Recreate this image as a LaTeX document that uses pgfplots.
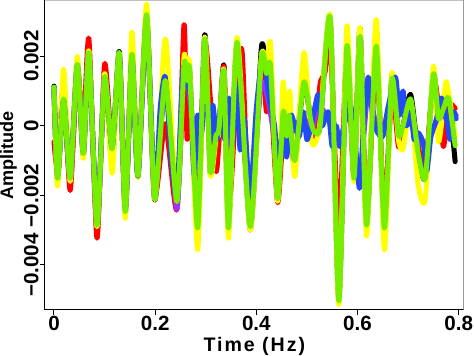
\documentclass[border=0pt]{standalone}
\usepackage{fontspec}
\setmainfont{Liberation Sans}
\newfontfamily\xlabfont{Liberation Sans}[LetterSpace=10]
\usepackage{pgfplots}
\pgfplotsset{compat=1.18}
\definecolor{cgreen}{RGB}{118,238,0}
\definecolor{cyellow}{RGB}{255,255,0}
\definecolor{cred}{RGB}{255,0,0}
\definecolor{cblue}{RGB}{35,75,245}
\definecolor{cmag}{RGB}{160,50,255}
\begin{document}
\begin{tikzpicture}
\begin{axis}[
  scale only axis, width=417pt, height=308pt,
  xmin=-0.018, xmax=0.81, ymin=-0.00529, ymax=0.0036,
  axis lines*=left, axis line style={line width=1pt, black},
  tick align=outside, major tick length=5pt, tick style={line width=1pt, black},
  xtick={0,0.2,0.4,0.6,0.8}, xticklabels={0,0.2,0.4,0.6,0.8},
  ytick={-0.004,-0.002,0,0.002}, yticklabels={−0.004,−0.002,0,0.002},
  scaled y ticks=false, scaled x ticks=false,
  xticklabel style={font=\fontsize{20.5}{20.5}\selectfont\bfseries, inner sep=1pt},
  yticklabel style={font=\fontsize{20.5}{20.5}\selectfont\bfseries, rotate=90, anchor=south, inner sep=1pt},
  xlabel={\xlabfont\bfseries Time (Hz)},
  ylabel={Amplitude},
  xlabel style={font=\fontsize{19.5}{19.5}\selectfont, inner sep=0pt, yshift=-5pt},
  ylabel style={font=\fontsize{18}{18}\selectfont\bfseries, inner sep=0pt, yshift=6pt},
  every axis plot/.append style={line width=5pt, smooth, tension=0.4, line join=round, line cap=round},
]
% black
\addplot[black] coordinates {
(0.000,0.00114)(0.007,-0.00155)(0.019,0.00080)(0.032,-0.00160)(0.046,0.00180)(0.058,-0.00085)(0.069,0.00212)(0.085,-0.00290)(0.100,0.00140)(0.115,-0.00110)(0.129,0.00214)(0.141,-0.00250)(0.154,0.00200)(0.166,-0.00145)(0.183,0.00318)(0.199,-0.00213)(0.220,0.00125)(0.243,-0.00215)(0.257,0.00175)(0.263,0.00125)(0.268,0.00165)(0.284,-0.00290)(0.298,0.00262)(0.309,-0.00135)(0.320,-0.00030)(0.326,-0.00010)(0.336,0.00172)(0.345,-0.00290)(0.362,0.00238)(0.388,-0.00290)(0.410,0.00225)(0.420,0.00150)(0.428,0.00170)(0.442,-0.00205)(0.453,0.00040)(0.460,-0.00030)(0.465,0.00030)(0.476,-0.00100)(0.494,0.00125)(0.508,0.00011)(0.516,-0.00020)(0.526,0.00000)(0.546,0.00308)(0.563,-0.00500)(0.579,0.00228)(0.593,-0.00150)(0.605,0.00280)(0.618,-0.00285)(0.637,0.00235)(0.653,-0.00292)(0.668,0.00145)(0.681,-0.00028)(0.690,0.00000)(0.705,0.00090)(0.720,-0.00080)(0.734,-0.00150)(0.750,0.00149)(0.760,0.00020)(0.770,0.00050)(0.780,0.00080)(0.793,-0.00103)
};
% red
\addplot[cred] coordinates {
(0.000,-0.00046)(0.007,-0.00120)(0.019,0.00120)(0.032,-0.00186)(0.046,0.00160)(0.058,-0.00010)(0.069,0.00249)(0.085,-0.00323)(0.100,0.00177)(0.115,-0.00060)(0.129,0.00190)(0.141,-0.00230)(0.154,0.00190)(0.166,-0.00130)(0.183,0.00300)(0.199,-0.00200)(0.220,0.00006)(0.243,-0.00240)(0.257,0.00290)(0.263,-0.00037)(0.268,0.00100)(0.284,-0.00280)(0.298,0.00230)(0.309,0.00080)(0.320,-0.00130)(0.326,-0.00050)(0.336,0.00170)(0.345,-0.00260)(0.362,0.00120)(0.372,0.00210)(0.388,-0.00300)(0.410,0.00180)(0.420,0.00040)(0.428,0.00100)(0.442,-0.00220)(0.453,-0.00020)(0.460,0.00020)(0.465,0.00040)(0.476,-0.00120)(0.494,0.00170)(0.508,-0.00020)(0.516,-0.00030)(0.526,0.00120)(0.536,0.00155)(0.546,0.00250)(0.563,-0.00290)(0.579,0.00220)(0.593,-0.00140)(0.605,0.00240)(0.618,-0.00260)(0.637,0.00200)(0.653,-0.00250)(0.668,0.00100)(0.681,-0.00060)(0.690,-0.00010)(0.705,0.00040)(0.720,-0.00060)(0.734,-0.00120)(0.750,0.00130)(0.760,0.00060)(0.770,-0.00060)(0.780,0.00060)(0.793,0.00050)
};
% yellow
\addplot[cyellow] coordinates {
(0.000,0.00105)(0.007,-0.00174)(0.019,0.00163)(0.032,-0.00160)(0.046,0.00200)(0.058,-0.00094)(0.069,0.00215)(0.085,-0.00290)(0.100,0.00150)(0.115,-0.00137)(0.129,0.00210)(0.141,-0.00266)(0.154,0.00270)(0.166,-0.00150)(0.183,0.00350)(0.199,-0.00212)(0.220,0.00250)(0.243,-0.00215)(0.257,0.00197)(0.263,0.00140)(0.268,0.00175)(0.284,-0.00357)(0.298,0.00255)(0.309,-0.00140)(0.320,-0.00040)(0.326,-0.00020)(0.336,0.00160)(0.345,-0.00323)(0.362,0.00254)(0.388,-0.00300)(0.410,0.00200)(0.420,0.00160)(0.428,0.00234)(0.442,-0.00217)(0.453,0.00126)(0.460,-0.00080)(0.466,0.00100)(0.476,-0.00146)(0.494,0.00210)(0.508,-0.00036)(0.516,-0.00050)(0.526,0.00010)(0.546,0.00315)(0.563,-0.00514)(0.579,0.00286)(0.593,-0.00160)(0.605,0.00283)(0.618,-0.00317)(0.637,0.00306)(0.653,-0.00357)(0.668,0.00149)(0.681,-0.00040)(0.690,-0.00066)(0.705,0.00060)(0.720,-0.00170)(0.734,-0.00209)(0.750,0.00170)(0.760,-0.00046)(0.770,0.00060)(0.776,0.00126)(0.793,-0.00030)
};
% magenta
\addplot[cmag] coordinates {
(0.000,0.00105)(0.007,-0.00145)(0.019,0.00075)(0.032,-0.00150)(0.046,0.00175)(0.058,-0.00078)(0.069,0.00205)(0.085,-0.00280)(0.100,0.00138)(0.115,-0.00064)(0.129,0.00205)(0.141,-0.00240)(0.154,0.00200)(0.166,-0.00140)(0.183,0.00310)(0.199,-0.00205)(0.220,0.00125)(0.243,-0.00240)(0.257,0.00170)(0.270,0.00060)(0.284,-0.00080)(0.298,0.00120)(0.310,-0.00020)(0.322,-0.00030)(0.336,0.00080)(0.345,-0.00050)(0.362,0.00090)(0.388,-0.00190)(0.410,0.00120)(0.425,0.00060)(0.443,-0.00090)(0.460,-0.00060)(0.476,0.00000)(0.494,0.00020)(0.510,-0.00010)(0.522,0.00060)(0.542,0.00020)(0.563,-0.00050)(0.585,0.00050)(0.604,-0.00150)(0.621,0.00100)(0.640,-0.00020)(0.660,0.00030)(0.675,0.00100)(0.690,0.00050)(0.705,0.00010)(0.720,-0.00040)(0.737,-0.00060)(0.752,0.00000)(0.766,0.00040)(0.780,0.00010)(0.795,0.00030)
};
% blue
\addplot[cblue] coordinates {
(0.000,0.00100)(0.007,-0.00135)(0.019,0.00070)(0.032,-0.00140)(0.046,0.00170)(0.058,-0.00075)(0.069,0.00200)(0.085,-0.00270)(0.100,0.00135)(0.115,-0.00060)(0.129,0.00200)(0.141,-0.00235)(0.154,0.00195)(0.166,-0.00145)(0.183,0.00300)(0.199,-0.00200)(0.210,0.00050)(0.220,0.00140)(0.232,-0.00100)(0.243,-0.00200)(0.255,0.00160)(0.263,0.00120)(0.270,0.00080)(0.277,-0.00140)(0.284,0.00030)(0.292,-0.00020)(0.300,0.00150)(0.308,-0.00050)(0.314,0.00060)(0.322,-0.00040)(0.330,0.00050)(0.338,-0.00040)(0.346,0.00080)(0.352,-0.00060)(0.360,0.00120)(0.368,-0.00070)(0.376,0.00020)(0.388,-0.00200)(0.400,0.00050)(0.413,0.00200)(0.425,0.00080)(0.436,0.00000)(0.443,-0.00110)(0.452,-0.00020)(0.460,-0.00090)(0.468,0.00030)(0.476,0.00000)(0.485,-0.00030)(0.493,0.00040)(0.500,-0.00040)(0.510,0.00010)(0.522,0.00090)(0.530,0.00000)(0.542,0.00040)(0.550,-0.00060)(0.558,0.00000)(0.565,-0.00060)(0.575,0.00010)(0.585,0.00070)(0.595,-0.00040)(0.604,-0.00180)(0.612,0.00000)(0.621,0.00140)(0.630,0.00030)(0.640,-0.00020)(0.650,-0.00030)(0.660,0.00050)(0.675,0.00140)(0.683,0.00030)(0.690,0.00100)(0.697,0.00000)(0.705,0.00040)(0.712,-0.00040)(0.720,-0.00020)(0.730,-0.00050)(0.737,-0.00130)(0.745,-0.00030)(0.752,0.00000)(0.760,0.00040)(0.766,0.00080)(0.775,0.00030)(0.783,-0.00040)(0.790,0.00040)(0.795,0.00020)
};
% green
\addplot[cgreen] coordinates {
(0.000,0.00111)(0.007,-0.00151)(0.019,0.00077)(0.032,-0.00150)(0.046,0.00177)(0.058,-0.00080)(0.069,0.00210)(0.085,-0.00286)(0.100,0.00140)(0.115,-0.00066)(0.129,0.00210)(0.141,-0.00246)(0.154,0.00206)(0.166,-0.00143)(0.183,0.00320)(0.199,-0.00210)(0.220,0.00130)(0.243,-0.00218)(0.257,0.00177)(0.263,0.00130)(0.268,0.00160)(0.284,-0.00294)(0.298,0.00250)(0.309,-0.00130)(0.320,-0.00030)(0.326,-0.00010)(0.336,0.00157)(0.345,-0.00294)(0.362,0.00240)(0.388,-0.00290)(0.410,0.00197)(0.420,0.00150)(0.428,0.00170)(0.442,-0.00209)(0.453,0.00040)(0.460,-0.00030)(0.465,0.00030)(0.476,-0.00100)(0.494,0.00126)(0.508,0.00011)(0.516,-0.00020)(0.526,0.00000)(0.546,0.00310)(0.563,-0.00503)(0.579,0.00229)(0.593,-0.00150)(0.605,0.00257)(0.618,-0.00286)(0.637,0.00229)(0.653,-0.00294)(0.668,0.00134)(0.681,-0.00028)(0.690,0.00000)(0.705,0.00077)(0.720,-0.00080)(0.734,-0.00150)(0.750,0.00149)(0.760,0.00020)(0.770,0.00050)(0.780,0.00080)(0.793,-0.00057)
};
\draw[line width=1pt, black!25] (rel axis cs:0,1) -- (rel axis cs:1,1);
\draw[line width=1pt, black!60] (rel axis cs:1,1) -- (rel axis cs:1,0);
\end{axis}
\end{tikzpicture}
\end{document}
